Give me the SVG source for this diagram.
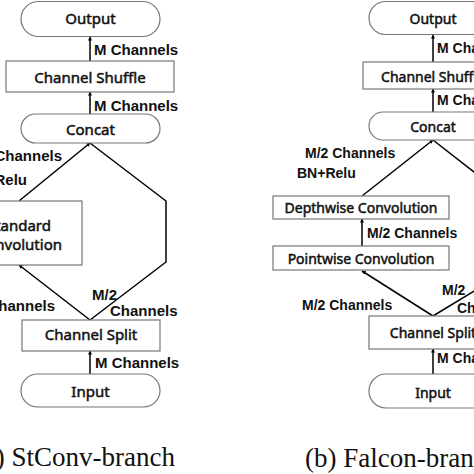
<svg xmlns="http://www.w3.org/2000/svg" width="474" height="474" viewBox="0 0 474 474">
<defs>
<marker id="ah" viewBox="0 0 10 10" refX="9" refY="5" markerWidth="4" markerHeight="4" orient="auto" markerUnits="userSpaceOnUse">
<path d="M0,0 L10,5 L0,10 z" fill="#000"/>
</marker>
<style>
.box{fill:#fff;stroke:#777;stroke-width:1.2}
.nt{font-family:"Noto Sans","Liberation Sans",sans-serif;fill:#111;stroke:#111;stroke-width:0.5;text-anchor:middle}
.a{font-size:15px}
.b{font-size:14px}
.lb{font-family:"Liberation Sans",Arial,sans-serif;font-weight:bold;fill:#111}
.cn{fill:none;stroke:#000;stroke-width:1.5}
.cap{font-family:"Liberation Serif","Times New Roman",serif;font-size:27px;fill:#111}
</style>
</defs>
<rect width="474" height="474" fill="#fff"/>

<g id="connectors">
<line class="cn" x1="90" y1="61" x2="90" y2="37" marker-end="url(#ah)"/>
<line class="cn" x1="90" y1="114" x2="90" y2="92" marker-end="url(#ah)"/>
<line class="cn" x1="19" y1="201" x2="90" y2="143" marker-end="url(#ah)"/>
<polyline class="cn" points="90,320 166,262 166,201 90,143"/>
<line class="cn" x1="90" y1="320" x2="19" y2="265" marker-end="url(#ah)"/>
<line class="cn" x1="90" y1="374" x2="90" y2="351" marker-end="url(#ah)"/>

<line class="cn" x1="433" y1="62" x2="433" y2="35" marker-end="url(#ah)"/>
<line class="cn" x1="433" y1="112" x2="433" y2="89" marker-end="url(#ah)"/>
<line class="cn" x1="362" y1="196" x2="433" y2="140" marker-end="url(#ah)"/>
<line class="cn" x1="433" y1="140" x2="520" y2="208"/>
<line class="cn" x1="362" y1="246" x2="362" y2="219" marker-end="url(#ah)"/>
<line class="cn" x1="433" y1="316" x2="362" y2="271" marker-end="url(#ah)"/>
<line class="cn" x1="433" y1="316" x2="520" y2="263"/>
<line class="cn" x1="433" y1="374" x2="433" y2="349" marker-end="url(#ah)"/>
</g>

<g id="labels">
<text class="lb" font-size="15" x="94" y="55">M Channels</text>
<text class="lb" font-size="15" x="94" y="111">M Channels</text>
<text class="lb" font-size="15" x="62" y="161" text-anchor="end">M/2 Channels</text>
<text class="lb" font-size="15" x="27" y="185" text-anchor="end">BN+Relu</text>
<text class="lb" font-size="15" x="55" y="311" text-anchor="end">M/2 Channels</text>
<text class="lb" font-size="15" x="92" y="300">M/2</text>
<text class="lb" font-size="15" x="110" y="316">Channels</text>
<text class="lb" font-size="15" x="95" y="368">M Channels</text>

<text class="lb" font-size="14" x="437" y="53">M Channels</text>
<text class="lb" font-size="14" x="437" y="105">M Channels</text>
<text class="lb" font-size="14" x="305" y="158">M/2 Channels</text>
<text class="lb" font-size="14" x="297" y="178">BN+Relu</text>
<text class="lb" font-size="14" x="367" y="238">M/2 Channels</text>
<text class="lb" font-size="14" x="302" y="310">M/2 Channels</text>
<text class="lb" font-size="14" x="442" y="295">M/2</text>
<text class="lb" font-size="14" x="457" y="313">Channels</text>
<text class="lb" font-size="14" x="437" y="363">M Channels</text>
</g>

<g id="a-output"><rect class="box" x="21" y="1.5" width="139" height="35" rx="17.5"/><text class="nt a" x="90.5" y="24">Output</text></g>
<g id="a-shuffle"><rect class="box" x="6" y="61" width="168" height="31"/><text class="nt a" x="90" y="83">Channel Shuffle</text></g>
<g id="a-concat"><rect class="box" x="21" y="114" width="139" height="29" rx="14.5"/><text class="nt a" x="90.5" y="135">Concat</text></g>
<g id="a-stconv"><rect class="box" x="-34" y="201" width="116" height="64"/><text class="nt a" x="51" y="231" style="text-anchor:end">Standard</text><text class="nt a" x="62" y="250" style="text-anchor:end">Convolution</text></g>
<g id="a-split"><rect class="box" x="22" y="320" width="138" height="31"/><text class="nt a" x="91" y="340">Channel Split</text></g>
<g id="a-input"><rect class="box" x="21" y="374" width="139" height="33" rx="16.5"/><text class="nt a" x="90.5" y="397">Input</text></g>
<text class="cap" x="175" y="466" text-anchor="end">(a) StConv-branch</text>

<g id="b-output"><rect class="box" x="369" y="1.5" width="128" height="33" rx="16.5"/><text class="nt b" x="433" y="24">Output</text></g>
<g id="b-shuffle"><rect class="box" x="363" y="62" width="140" height="27"/><text class="nt b" x="433" y="82">Channel Shuffle</text></g>
<g id="b-concat"><rect class="box" x="369" y="112" width="128" height="28" rx="14"/><text class="nt b" x="433" y="132">Concat</text></g>
<g id="b-depthwise"><rect class="box" x="273" y="196" width="176" height="23"/><text class="nt b" x="361" y="213">Depthwise Convolution</text></g>
<g id="b-pointwise"><rect class="box" x="273" y="246" width="176" height="24"/><text class="nt b" x="361" y="264">Pointwise Convolution</text></g>
<g id="b-split"><rect class="box" x="369" y="316" width="128" height="33"/><text class="nt b" x="433" y="338">Channel Split</text></g>
<g id="b-input"><rect class="box" x="369" y="374" width="128" height="34" rx="17"/><text class="nt b" x="433" y="398">Input</text></g>
<text class="cap" x="305" y="467">(b) Falcon-branch</text>
</svg>
